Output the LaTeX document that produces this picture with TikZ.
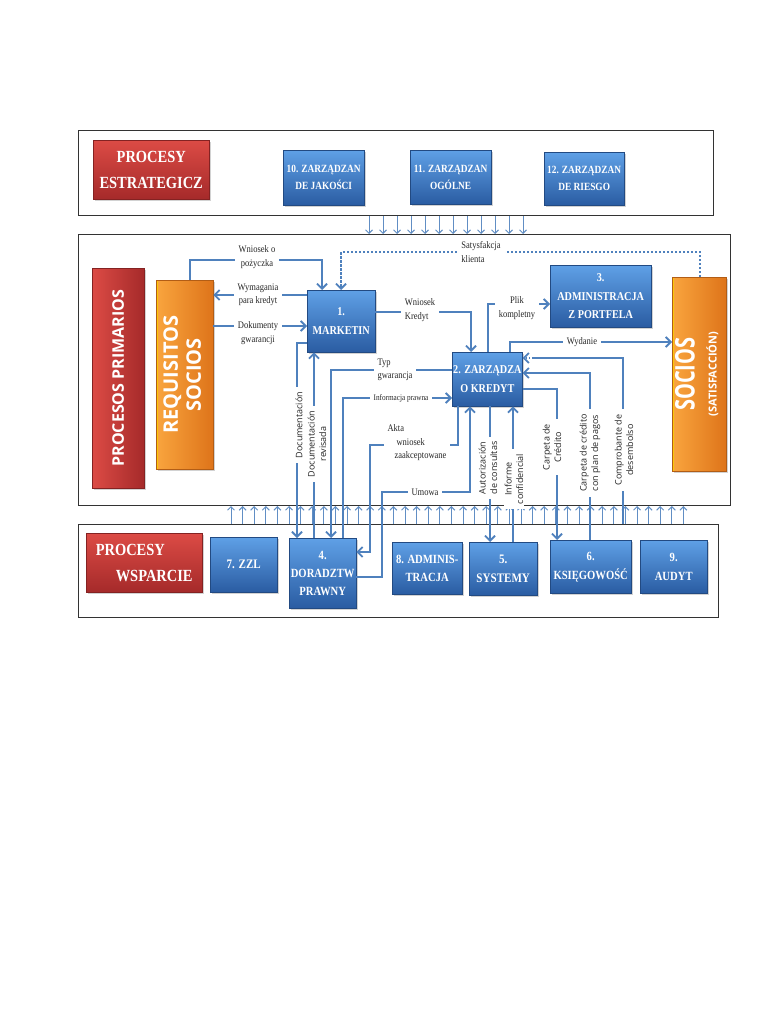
\documentclass[tikz,border=0pt]{standalone}
\usepackage{graphicx}
\usepackage{fontspec}
\setmainfont{Liberation Serif}
\newfontfamily\bx{Liberation Serif}[FakeStretch=0.85]
\newfontfamily\os{Open Sans}
\usetikzlibrary{arrows.meta,shadows}
\definecolor{lineblue}{HTML}{4F81BD}
\definecolor{blueT}{HTML}{5FA0E6}
\definecolor{blueB}{HTML}{2A5CA2}
\definecolor{redL}{HTML}{DC4B45}
\definecolor{redD}{HTML}{A52A2A}
\definecolor{orL}{HTML}{F9A53E}
\definecolor{orD}{HTML}{DE741A}
\definecolor{framec}{HTML}{333333}
\tikzset{
  wh/.style n args={2}{minimum width=#1, minimum height=#2},
  frame/.style={draw=framec, line width=1pt, anchor=north west, inner sep=0pt},
  shad/.style={drop shadow={opacity=0.35, shadow xshift=1.5pt, shadow yshift=-1.5pt}},
  bluebox/.style={top color=blueT, bottom color=blueB, draw=blueB!80!black, line width=0.4pt, shad,
    text=white, font=\bx\bfseries\fontsize{12}{18.5}\selectfont, align=center, inner sep=1pt, anchor=north west},
  redh/.style={top color=redL, bottom color=redD, draw=redD!80!black, line width=0.4pt, shad,
    text=white, font=\bx\bfseries\fontsize{17}{26}\selectfont, inner sep=1pt, anchor=north west},
  redv/.style={left color=redL, right color=redD, draw=redD!80!black, line width=0.4pt, shad,
    text=white, font=\os\bfseries\fontsize{16}{18}\selectfont, inner sep=1pt, anchor=north west},
  orbox/.style={left color=orL, right color=orD, draw=orD!80!black, line width=0.4pt, shad,
    text=white, font=\os\bfseries\fontsize{20}{23}\selectfont, inner sep=1pt, anchor=north west,
    path picture={\fill[yellow!60!orange] (path picture bounding box.north west) rectangle ([xshift=2pt]path picture bounding box.south west);}},
  conn0/.style={draw=lineblue, line width=1.8pt},
  conn/.style={conn0, -{Straight Barb[length=5pt,width=10pt]}},
  sarrow/.style={draw=lineblue!90, line width=1pt, -{Straight Barb[length=3.5pt,width=7pt]}},
  lbl/.style={fill=white, font=\bx\fontsize{10}{13.5}\selectfont, align=center, inner xsep=4pt, inner ysep=1pt, text=black!85},
  rlbl/.style={fill=white, rotate=90, font=\os\fontsize{9}{11.5}\selectfont, align=center, inner xsep=5pt, inner ysep=0.5pt, text=black!85}
}
\begin{document}
\begin{tikzpicture}[x=1pt,y=-1pt]
\fill[white] (0,0) rectangle (768,1024);
\useasboundingbox (0,0) rectangle (768,1024);

% frames
\node[frame, wh={635}{85}] (fstr) at (78,130) {};
\node[frame, wh={652}{271}] (fpri) at (78,234) {};
\node[frame, wh={640}{93}] (fsup) at (78,524) {};

% strategic boxes
\node[redh, wh={116}{59}, align=center] (pe) at (93,140) {PROCESY\\ESTRATEGICZ};
\node[bluebox, wh={81}{55}, font=\bx\bfseries\fontsize{11}{17}\selectfont] (b10) at (283,150) {10. ZARZĄDZAN\\DE JAKOŚCI};
\node[bluebox, wh={81}{54}, font=\bx\bfseries\fontsize{11}{17}\selectfont] (b11) at (410,150) {11. ZARZĄDZAN\\OGÓLNE};
\node[bluebox, wh={80}{53}, font=\bx\bfseries\fontsize{11}{17}\selectfont] (b12) at (544,152) {12. ZARZĄDZAN\\DE RIESGO};

% primary boxes
\node[redv, wh={52}{220}] (pp) at (92,268) {\rotatebox{90}{PROCESOS PRIMARIOS}};
\node[orbox, wh={57}{189}] (req) at (156,280) {\rotatebox{90}{\begin{tabular}{@{}c@{}}REQUISITOS\\SOCIOS\end{tabular}}};
\node[bluebox, wh={68}{62}] (mkt) at (307,290) {1.\\MARKETIN};
\node[bluebox, wh={68}{54}] (kr) at (452,352) {2. ZARZĄDZA\\O KREDYT};
\node[bluebox, wh={101}{62}] (adm) at (550,265) {3.\\ADMINISTRACJA\\Z PORTFELA};
\node[orbox, wh={54}{194}] (soc) at (672,277) {\rotatebox{90}{\begin{tabular}{@{}c@{}}\scalebox{1}[1.35]{\fontsize{20}{20}\selectfont SOCIOS}\\[-1pt]{\fontsize{11}{12}\selectfont (SATISFACCIÓN)}\end{tabular}}};

% support boxes
\node[redh, wh={116}{59}, align=left] (pw) at (86,533) {PROCESY\\\hspace*{20pt}WSPARCIE};
\node[bluebox, wh={67}{55}, font=\bx\bfseries\fontsize{13}{18.5}\selectfont] (zzl) at (210,537) {7. ZZL};
\node[bluebox, wh={67}{70}, font=\bx\bfseries\fontsize{12.5}{18}\selectfont] (dor) at (289,538) {4.\\DORADZTW\\PRAWNY};
\node[bluebox, wh={70}{52}, font=\bx\bfseries\fontsize{12.5}{18.5}\selectfont] (ad8) at (392,542) {8. ADMINIS-\\TRACJA};
\node[bluebox, wh={68}{53}, font=\bx\bfseries\fontsize{13}{19}\selectfont] (sys) at (469,542) {5.\\SYSTEMY};
\node[bluebox, wh={81}{53}, font=\bx\bfseries\fontsize{12.5}{19}\selectfont] (ksi) at (550,540) {6.\\KSIĘGOWOŚĆ};
\node[bluebox, wh={67}{53}, font=\bx\bfseries\fontsize{12.5}{19}\selectfont] (aud) at (640,540) {9.\\AUDYT};

% arrows between frames
\foreach \x in {369,383,...,523}
  \draw[sarrow] (\x,0 |- fstr.south) -- (\x,0 |- fpri.north);
\foreach \x in {231,242.6,...,694}
  \draw[sarrow] (\x,0 |- fsup.north) -- (\x,0 |- fpri.south);

% connectors
\draw[conn] (190,0 |- req.north) -- (190,260) -- (322,260) -- (322,0 |- mkt.north);
\draw[conn] (mkt.west |- 0,295) -- (req.east |- 0,295);
\draw[conn] (req.east |- 0,326) -- (mkt.west |- 0,326);
\draw[conn] (mkt.west |- 0,343) -- (297,343) -- (297,0 |- dor.north);
\draw[conn] (314,0 |- dor.north) -- (314,0 |- mkt.south);
\draw[conn, dash pattern=on 2.5pt off 1.5pt] (700,0 |- soc.north) -- (700,252) -- (341,252) -- (341,0 |- mkt.north);
\draw[conn] (mkt.east |- 0,312) -- (471,312) -- (471,0 |- kr.north);
\draw[conn] (488,0 |- kr.north) -- (488,304) -- (adm.west |- 0,304);
\draw[conn] (510,0 |- kr.north) -- (510,342) -- (soc.west |- 0,342);
\draw[conn] (kr.west |- 0,370) -- (331,370) -- (331,0 |- dor.north);
\draw[conn] (343,0 |- dor.north) -- (343,398) -- (kr.west |- 0,398);
\draw[conn] (458,0 |- kr.south) -- (458,445) -- (370,445) -- (370,552) -- (dor.east |- 0,552);
\draw[conn] (dor.east |- 0,577) -- (382,577) -- (382,492) -- (470,492) -- (470,0 |- kr.south);
\draw[conn] (490,0 |- kr.south) -- (490,0 |- sys.north);
\draw[conn] (513,0 |- sys.north) -- (513,0 |- kr.south);
\draw[conn] (kr.east |- 0,389) -- (557,389) -- (557,0 |- ksi.north);
\draw[conn] (590,0 |- ksi.north) -- (590,373) -- (kr.east |- 0,373);
\draw[conn0] (623,0 |- fsup.north) -- (623,358) -- (533,358) coordinate (cpb);
\draw[conn, dash pattern=on 1.5pt off 1.5pt] (cpb) -- (kr.east |- cpb);

% labels
\node[lbl] (lwop) at (257,257) {Wniosek o\\pożyczka};
\node[lbl] (lwym) at (258,295) {Wymagania\\para kredyt};
\node[lbl] (ldok) at (258,333) {Dokumenty\\gwarancji};
\node[lbl, align=left] (lsat) at (481,252) {Satysfakcja\\klienta};
\node[lbl, align=left] (lwk) at (420,310) {Wniosek\\Kredyt};
\node[lbl] (lplik) at (517,308) {Plik\\kompletny};
\node[lbl] (lwyd) at (582,342) {Wydanie};
\node[lbl, align=left] (ltyp) at (395,370) {Typ\\gwarancja};
\node[lbl, font=\bx\fontsize{8.5}{10}\selectfont] (linf) at (401,398) {Informacja prawna};
\node[lbl, align=left] (lakta) at (417,443) {Akta\\\hspace*{9pt}wniosek\\\hspace*{7pt}zaakceptowane};
\node[lbl] (lumo) at (425,492) {Umowa};
\node[rlbl] (ldoc1) at (299,425) {Documentación};
\node[rlbl] (ldoc2) at (317,444) {Documentación\\revisada};
\node[rlbl] (laut) at (488,468) {Autorización\\de consultas};
\node[rlbl] (linfc) at (514,479) {Informe\\confidencial};
\node[rlbl] (lcarp) at (552,447) {Carpeta de\\Crédito};
\node[rlbl] (lcarpp) at (590,453) {Carpeta de crédito\\con plan de pagos};
\node[rlbl] (lcomp) at (624,450) {Comprobante de\\desembolso};
\end{tikzpicture}
\end{document}
